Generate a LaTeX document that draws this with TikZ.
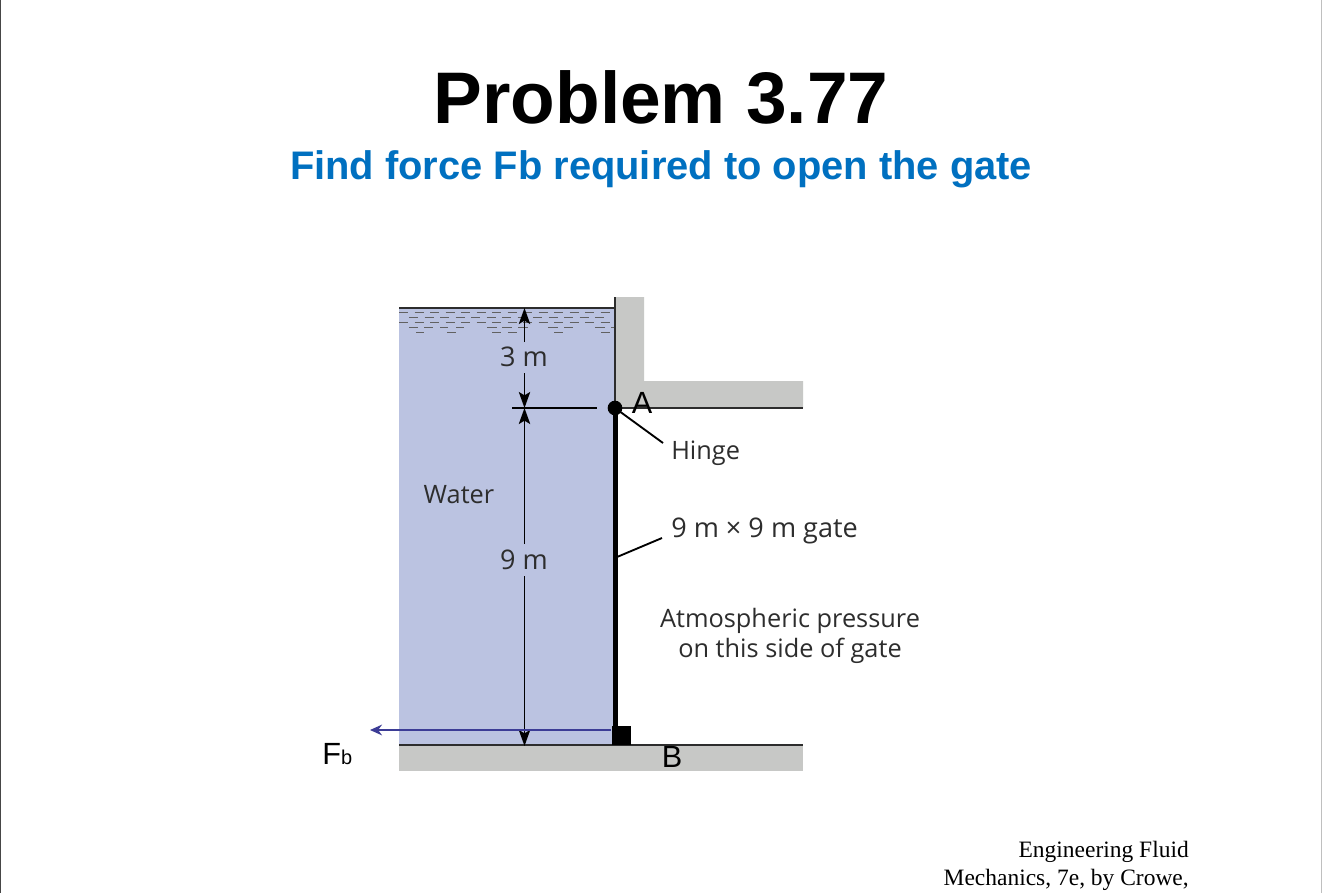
\documentclass[tikz,border=0pt]{standalone}
\usepackage{fontspec}
\setmainfont{Liberation Sans}
\newfontfamily\labelfont{Open Sans}
\newfontfamily\footfont{Liberation Serif}
\usetikzlibrary{arrows.meta}
\definecolor{waterblue}{RGB}{187,195,225}
\definecolor{wallgray}{RGB}{199,200,198}
\definecolor{titleblue}{RGB}{0,112,192}
\definecolor{forceblue}{RGB}{60,60,150}
\definecolor{inkgray}{RGB}{45,45,45}
\definecolor{framegray}{RGB}{70,70,70}
\tikzset{
  fig/.style={font=\labelfont\fontsize{19}{25}\selectfont\color{inkgray},inner sep=0pt,anchor=center,align=center},
  figbig/.style={fig,font=\labelfont\fontsize{20.3}{25}\selectfont\color{inkgray}},
  dim/.style={line width=1.4pt,black,-{Stealth[length=12pt,width=8.5pt,inset=2.5pt]}},
  edge/.style={line width=1.6pt,inkgray},
  wave/.style={line width=1.15pt,black!62},
}
\begin{document}
\begin{tikzpicture}[x=0.75pt,y=-0.75pt]
\useasboundingbox (0,0) rectangle (1322,893);
\fill[white] (0,0) rectangle (1322,893);
\draw[line width=1.1pt,framegray] (0.5,0) -- (0.5,893);
\draw[line width=.6pt,black!25] (1321.5,0) -- (1321.5,893);
% regions
\fill[waterblue] (399,308) rectangle (615,745);
\fill[wallgray] (615,297) -- (644,297) -- (644,381) -- (803,381) -- (803,408) -- (615,408) -- cycle;
\fill[wallgray] (399,745) rectangle (803,771);
% waves
\foreach \x in {0,...,13}{
  \draw[wave] ({399+\x*15.5},312.7) -- ({408+\x*15.5},312.7);
  \draw[wave] ({399+\x*15.5},322.7) -- ({408+\x*15.5},322.7);
}
\foreach \x in {0,...,12}{
  \draw[wave] ({409+\x*15.5},317.7) -- ({418+\x*15.5},317.7);
}
\foreach \a/\b in {409/418,424/433,440/448,456/464,487/497,502/512,518/528,548/558,564/573,595/605,611/614}{\draw[wave] (\a,327.3) -- (\b,327.3);}
\foreach \a/\b in {416/424,447/456,492/501,508/517,554/563,601/610}{\draw[wave] (\a,332.3) -- (\b,332.3);}
% outlines
\draw[edge] (399,308) -- (615,308);
\draw[edge] (615,297) -- (615,408);
\draw[edge] (615,408) -- (803,408);
\draw[edge] (399,745) -- (803,745);
% gate
\coordinate (gateTop) at (615.5,408);
\coordinate (gateBot) at (615.5,745);
\draw[line width=3.4pt,black] (gateTop) -- (gateBot);
\fill[black] (612,726) rectangle (631,745);
\node[circle,fill=black,inner sep=0pt,minimum size=11pt] (hinge) at (615,408) {};
% dimension lines
\coordinate (s3) at (524.5,308);
\coordinate (m) at (524.5,408);
\coordinate (b9) at (524.5,746);
\draw[line width=1.4pt,black] (512,408) -- (597,408);
\node[figbig] (d3) at (524,357) {3 m};
\node[figbig] (d9) at (524,560) {9 m};
\draw[dim] (524.5,342) -- (s3);
\draw[dim] (524.5,373) -- (m);
\draw[dim] (524.5,544) -- (m);
\draw[dim] (524.5,576) -- (b9);
% labels
\node[fig] (water) at (459,495) {Water};
\node[fig,anchor=west] (hingeL) at (671,453) {Hinge};
\node[figbig,anchor=west] (gateL) at (671,531) {9 m × 9 m gate};
\node[fig] (atm) at (790,636) {Atmospheric pressure\\[-2pt]on this side of gate};
\coordinate (hl) at (663,443);
\coordinate (gl) at (662,538);
\coordinate (ga) at (617,557);
\draw[line width=1.4pt,black] (hinge.center) -- (hl);
\draw[line width=1.4pt,black] (ga) -- (gl);
\node[inner sep=0pt,font=\fontsize{23}{27}\selectfont] (A) at (642,403) {A};
\node[inner sep=0pt,font=\fontsize{23}{27}\selectfont] (B) at (672,757) {B};
\node[inner sep=0pt,anchor=base west,font=\fontsize{23}{27}\selectfont] (F) at (322,764) {F\fontsize{15}{17}\selectfont b};
% force
\coordinate (f1) at (611,730);
\coordinate (f2) at (370,730);
\draw[line width=1.7pt,forceblue,-{Stealth[length=9pt,width=8pt]}] (f1) -- (f2);
% titles
\node[inner sep=0pt,font=\bfseries\fontsize{54.8}{62}\selectfont] (title) at (661,97) {Problem 3.77};
\node[inner sep=0pt,font=\bfseries\fontsize{29.9}{34}\selectfont,text=titleblue] (sub) at (661,169) {Find force Fb required to open the gate};
\node[inner sep=0pt,anchor=east,font=\footfont\fontsize{17.6}{22}\selectfont] (f1t) at (1189,852) {Engineering Fluid};
\node[inner sep=0pt,anchor=east,font=\footfont\fontsize{17.6}{22}\selectfont] (f2t) at (1189,880) {Mechanics, 7e, by Crowe,};
\end{tikzpicture}
\end{document}
